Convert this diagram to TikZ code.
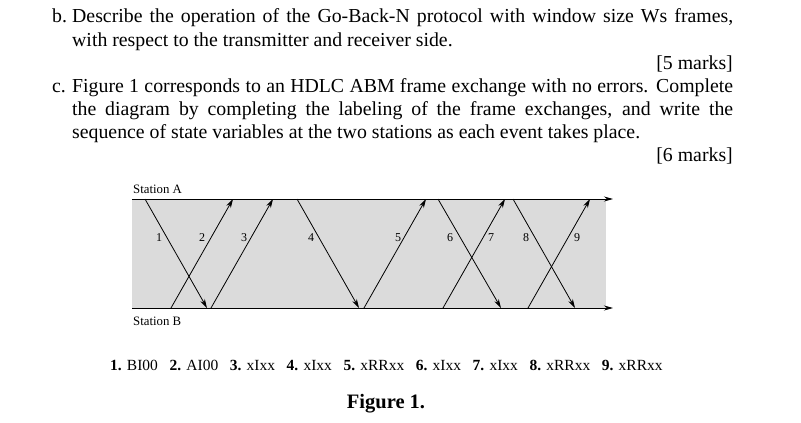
\documentclass[tikz,border=0pt]{standalone}
\usepackage{fontspec}
\setmainfont{Liberation Serif}
\usetikzlibrary{arrows.meta}
\begin{document}
\begin{tikzpicture}[x=1pt,y=-1pt,
  body/.style={anchor=base west,inner sep=0pt,font=\fontsize{19.8}{22}\selectfont},
  msg/.style={-{Stealth[length=9pt,width=5pt]},line width=0.8pt},
  num/.style={font=\fontsize{12}{14}\selectfont,inner sep=0pt},
  lbl/.style={font=\fontsize{12.8}{14}\selectfont,anchor=base west,inner sep=0pt}]
\useasboundingbox (0,0) rectangle (801,423);
\node[body] (b1) at (52,23) {b.};
\node[body] (t1) at (72,23) {\makebox[661pt][s]{Describe the operation of the Go-Back-N protocol with window size Ws frames,}};
\node[body] (t2) at (72,46) {with respect to the transmitter and receiver side.};
\node[body,anchor=base east] (m1) at (733,69) {[5 marks]};
\node[body] (c1) at (52,92) {c.};
\node[body] (t3) at (72,92) {\makebox[661pt][s]{Figure 1 corresponds to an HDLC ABM frame exchange with no errors. Complete}};
\node[body] (t4) at (72,115) {\makebox[661pt][s]{the diagram by completing the labeling of the frame exchanges, and write the}};
\node[body] (t5) at (72,138) {sequence of state variables at the two stations as each event takes place.};
\node[body,anchor=base east] (m2) at (733,161) {[6 marks]};

\fill[gray!28] (132,199) rectangle (606,308);
\coordinate (A0) at (132,199); \coordinate (A1) at (613,199);
\coordinate (B0) at (132,308); \coordinate (B1) at (613,308);
\draw[msg] (A0) -- (A1);
\draw[msg] (B0) -- (B1);
\node[lbl] (sa) at (133,193) {Station A};
\node[lbl] (sb) at (133,325) {Station B};

\foreach \n/\xa/\xb in {1/145/207,4/297/359,6/438/501,8/513/575}{
  \coordinate (s\n) at (\xa,199); \coordinate (e\n) at (\xb,308);
  \draw[msg] (s\n) -- (e\n);}
\foreach \n/\xa/\xb in {2/171/233,3/211/273,5/364/426,7/443/505,9/528/590}{
  \coordinate (s\n) at (\xa,308); \coordinate (e\n) at (\xb,199);
  \draw[msg] (s\n) -- (e\n);}
\foreach \n/\x in {1/159,2/202,3/244,4/311,5/398,6/450,7/491,8/526,9/577}
  \node[num] (n\n) at (\x,238) {\n};

\node[anchor=base west,inner sep=0pt,font=\fontsize{15.5}{17}\selectfont] (leg) at (110,370)
 {\textbf{1.} BI00\ \ \ \textbf{2.} AI00\ \ \ \textbf{3.} xIxx\ \ \ \textbf{4.} xIxx\ \ \ \textbf{5.} xRRxx\ \ \ \textbf{6.} xIxx\ \ \ \textbf{7.} xIxx\ \ \ \textbf{8.} xRRxx\ \ \ \textbf{9.} xRRxx};
\node[inner sep=0pt,font=\fontsize{20.5}{22}\selectfont\bfseries] (fig) at (386,404) {Figure 1.};
\end{tikzpicture}
\end{document}
